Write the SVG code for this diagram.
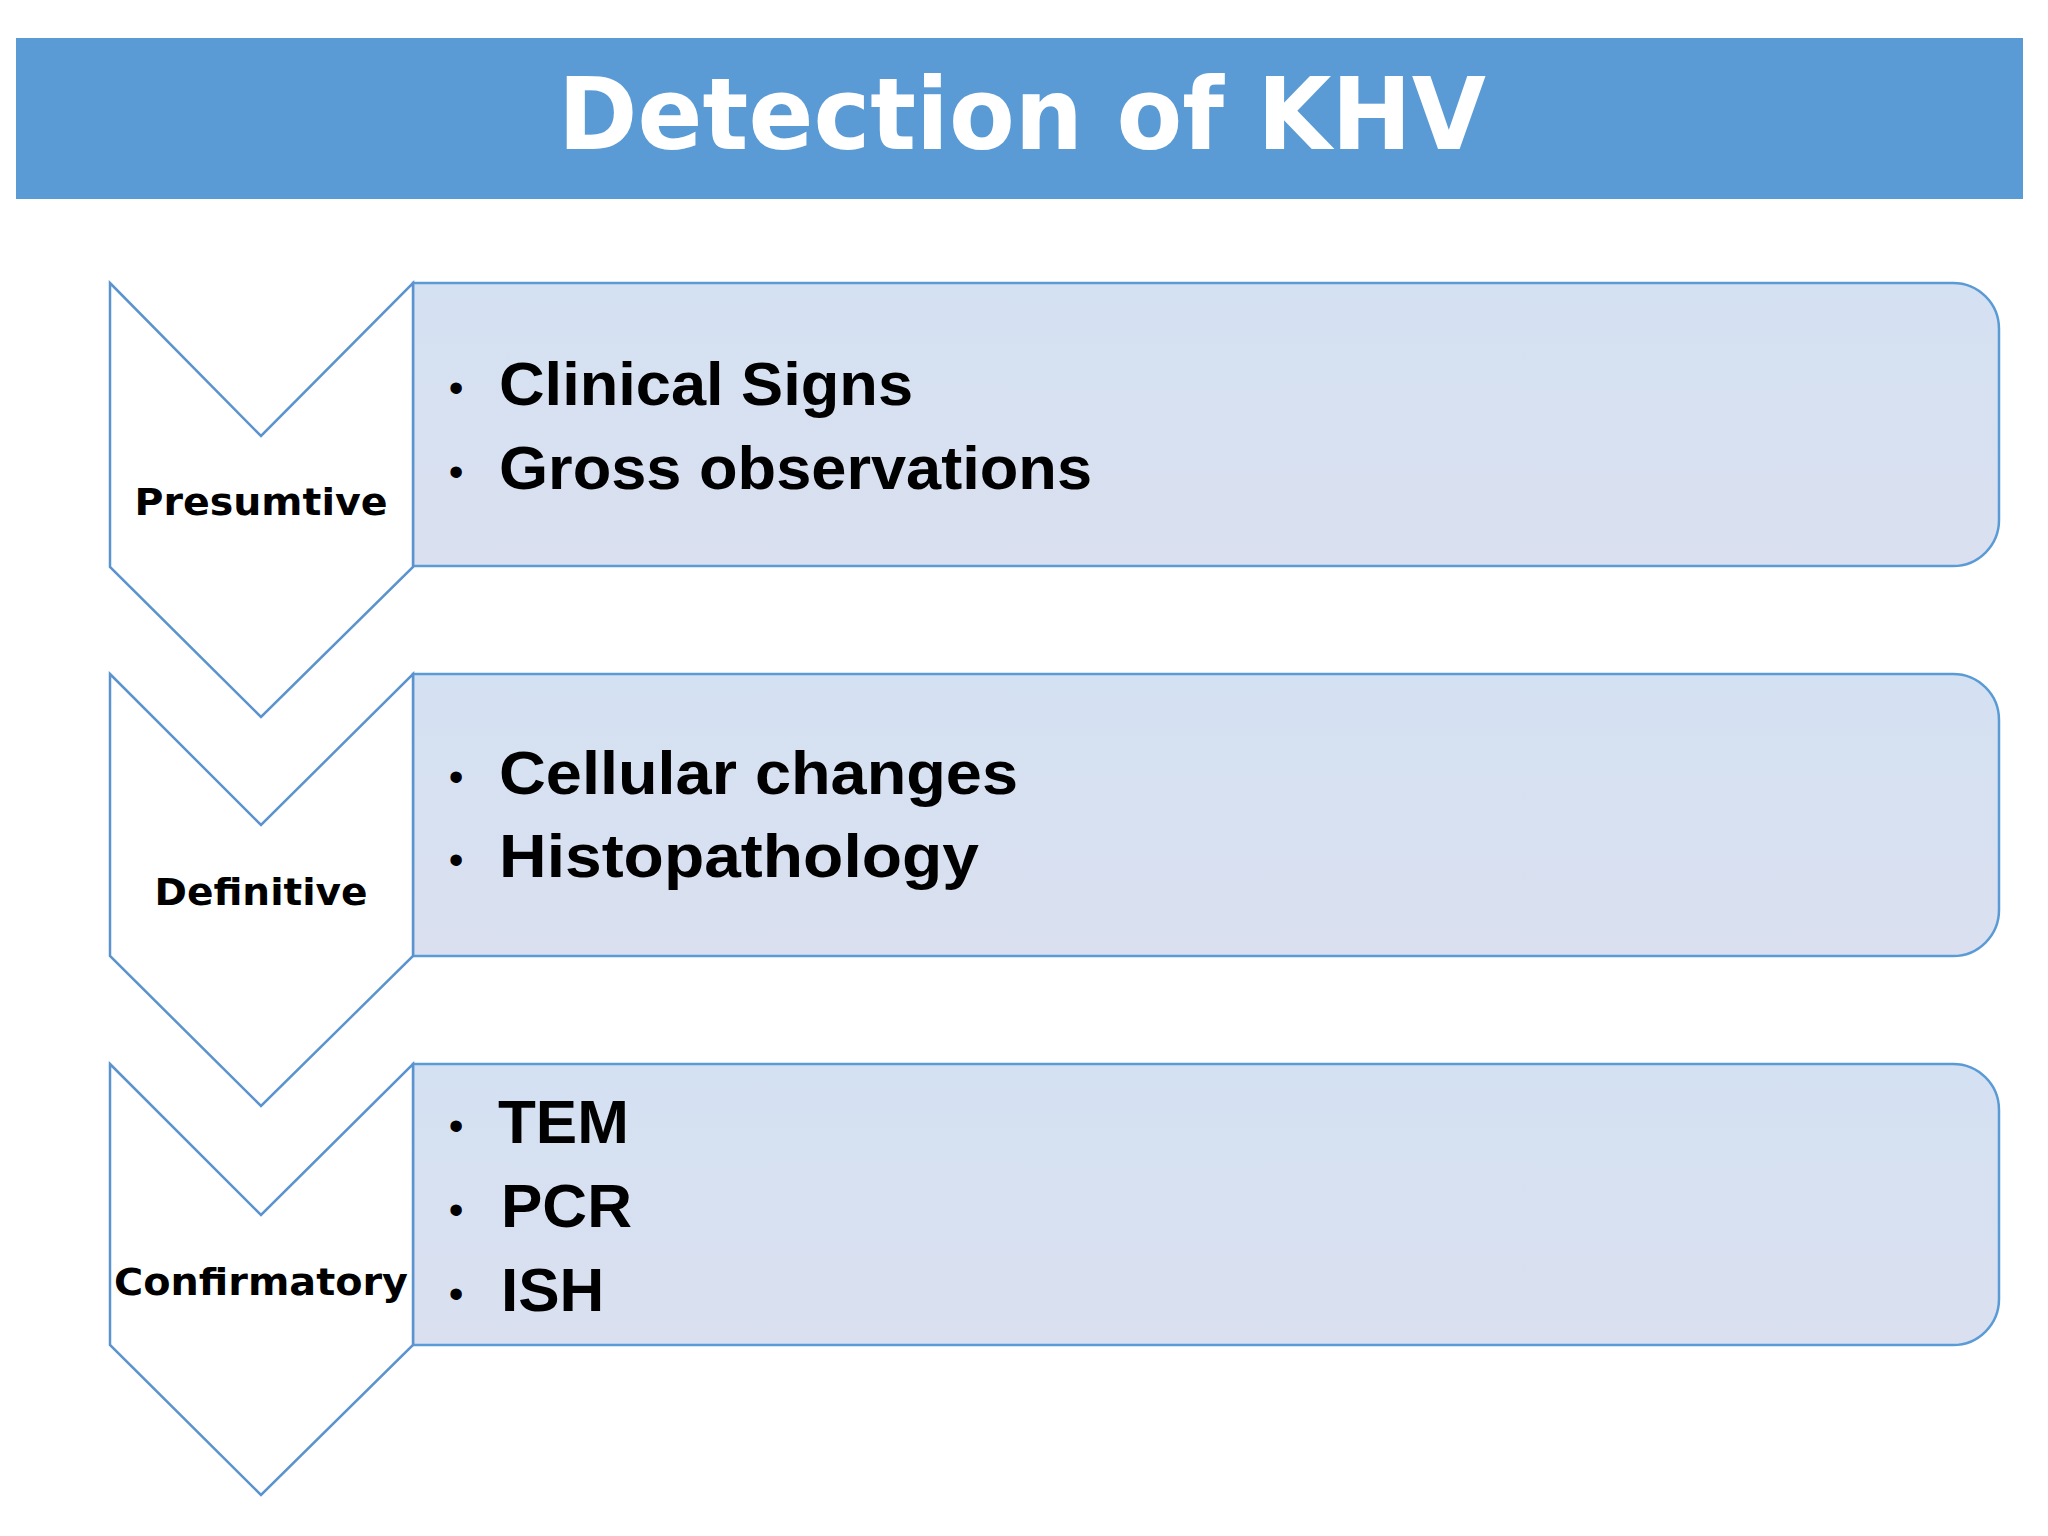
<svg xmlns="http://www.w3.org/2000/svg" width="2048" height="1536" viewBox="0 0 2048 1536">
  <defs>
    <linearGradient id="boxFill" x1="0" y1="0" x2="0" y2="1">
      <stop offset="0" stop-color="#D4E1F2"/>
      <stop offset="1" stop-color="#DAE0F0"/>
    </linearGradient>
    <style>
      .chev { fill: #FFFFFF; stroke: #5B93CF; stroke-width: 2.5; stroke-linejoin: miter; }
      .box { fill: url(#boxFill); stroke: #5B9BD5; stroke-width: 2.5; }
      .label { font-family: "DejaVu Sans", "Liberation Sans", sans-serif; font-weight: bold; font-size: 38px; fill: #000000; text-anchor: middle; }
      .item { font-family: "Liberation Sans", Arial, sans-serif; font-weight: bold; font-size: 62px; fill: #000000; }
      .bullet { font-family: "Liberation Sans", Arial, sans-serif; font-size: 42px; fill: #000000; text-anchor: middle; }
      .title { font-family: "DejaVu Sans", "Liberation Sans", sans-serif; font-weight: bold; font-size: 99px; fill: #FFFFFF; text-anchor: middle; }
    </style>
  </defs>
  <rect x="0" y="0" width="2048" height="1536" fill="#FFFFFF"/>

  <g id="header">
    <rect x="16" y="38" width="2007" height="161" fill="#5B9BD5"/>
    <text class="title" x="1022" y="149" textLength="928" lengthAdjust="spacingAndGlyphs">Detection of KHV</text>
  </g>

  <g id="connectors"></g>

  <g id="step-presumptive">
    <path class="box" d="M413,283 H1953 A46,46 0 0 1 1999,329 V520 A46,46 0 0 1 1953,566 H413 Z"/>
    <polygon class="chev" points="110,283 261,436 413,283 413,567 261,717 110,567"/>
    <text class="label" x="261" y="515" textLength="253" lengthAdjust="spacingAndGlyphs">Presumtive</text>
    <text class="bullet" x="456" y="402">•</text>
    <text class="item" x="499" y="405" textLength="414" lengthAdjust="spacingAndGlyphs">Clinical Signs</text>
    <text class="bullet" x="456" y="486">•</text>
    <text class="item" x="499" y="489" textLength="593" lengthAdjust="spacingAndGlyphs">Gross observations</text>
  </g>

  <g id="step-definitive">
    <path class="box" d="M413,674 H1953 A46,46 0 0 1 1999,720 V910 A46,46 0 0 1 1953,956 H413 Z"/>
    <polygon class="chev" points="110,674 261,825 413,674 413,956 261,1106 110,956"/>
    <text class="label" x="261" y="905" textLength="213" lengthAdjust="spacingAndGlyphs">Definitive</text>
    <text class="bullet" x="456" y="791">•</text>
    <text class="item" x="499" y="794" textLength="519" lengthAdjust="spacingAndGlyphs">Cellular changes</text>
    <text class="bullet" x="456" y="874">•</text>
    <text class="item" x="499" y="877" textLength="480" lengthAdjust="spacingAndGlyphs">Histopathology</text>
  </g>

  <g id="step-confirmatory">
    <path class="box" d="M413,1064 H1953 A46,46 0 0 1 1999,1110 V1299 A46,46 0 0 1 1953,1345 H413 Z"/>
    <polygon class="chev" points="110,1064 261,1215 413,1064 413,1345 261,1495 110,1345"/>
    <text class="label" x="261" y="1295" textLength="294" lengthAdjust="spacingAndGlyphs">Confirmatory</text>
    <text class="bullet" x="456" y="1140">•</text>
    <text class="item" x="498" y="1143">TEM</text>
    <text class="bullet" x="456" y="1224">•</text>
    <text class="item" x="501" y="1227">PCR</text>
    <text class="bullet" x="456" y="1308">•</text>
    <text class="item" x="501" y="1311">ISH</text>
  </g>
</svg>
